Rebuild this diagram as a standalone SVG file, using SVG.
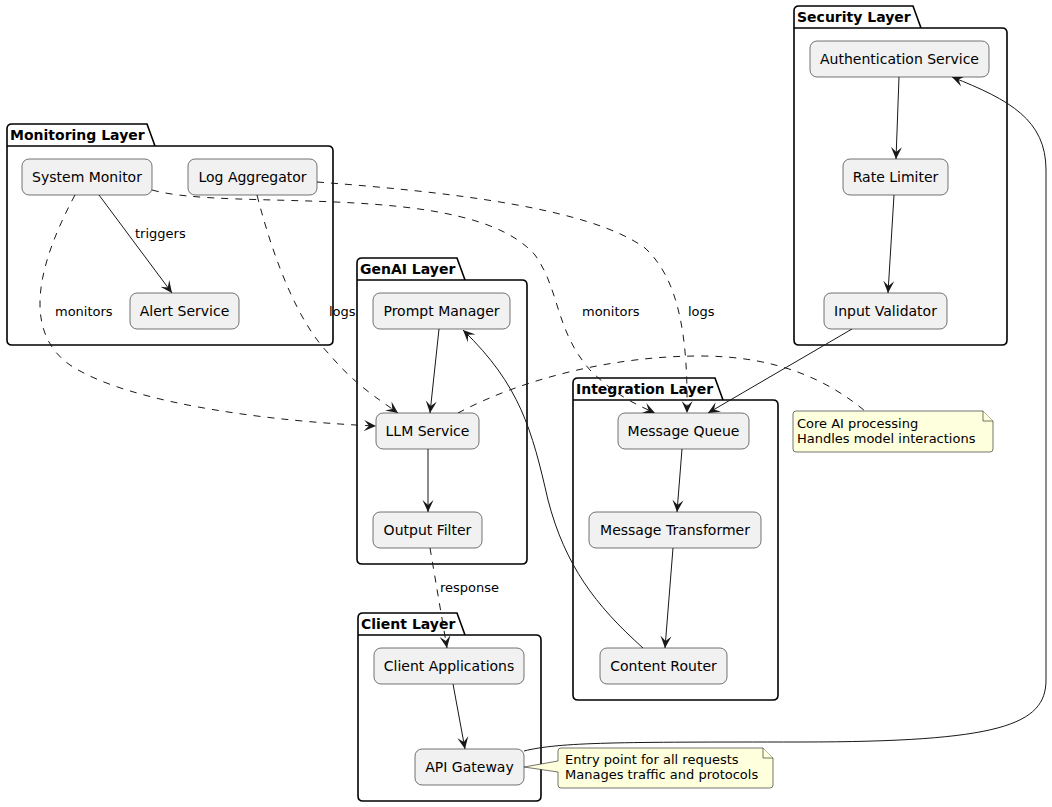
<svg xmlns="http://www.w3.org/2000/svg" width="1052" height="807" viewBox="0 0 1052 807">
<defs>
<marker id="ah" viewBox="0 0 12 12" refX="12" refY="6" markerWidth="12" markerHeight="12" markerUnits="userSpaceOnUse" orient="auto">
<path d="M12,6 L0,0.5 L5,6 L0,11.5 Z" fill="#181818"/>
</marker>
<style>
.pkg{fill:none;stroke:#000;stroke-width:1.6}
.pt{font-family:"DejaVu Sans",sans-serif;font-size:14px;font-weight:bold;fill:#000}
.nd{fill:#F1F1F1;stroke:#181818;stroke-width:0.6}
.nt{font-family:"DejaVu Sans",sans-serif;font-size:14px;fill:#000;text-anchor:middle}
.lb{font-family:"DejaVu Sans",sans-serif;font-size:13px;fill:#000}
.c{fill:none;stroke:#181818;stroke-width:1}
.d{stroke-dasharray:7,7}
.note{fill:#FEFFDD;stroke:#181818;stroke-width:0.6}
</style>
</defs>
<rect width="1052" height="807" fill="#fff"/>

<g id="pkg-monitoring">
<path class="pkg" d="M7,340 L7,129 Q7,124 12,124 L147,124 L155,146 L328,146 Q333,146 333,151 L333,340 Q333,345 328,345 L12,345 Q7,345 7,340 Z M7,146 L155,146"/>
<text class="pt" x="10" y="140">Monitoring Layer</text>
</g>
<g id="pkg-security">
<path class="pkg" d="M794,340 L794,11 Q794,6 799,6 L913,6 L921,28 L1002,28 Q1007,28 1007,33 L1007,340 Q1007,345 1002,345 L799,345 Q794,345 794,340 Z M794,28 L921,28"/>
<text class="pt" x="797" y="22">Security Layer</text>
</g>
<g id="pkg-genai">
<path class="pkg" d="M357,559 L357,263 Q357,258 362,258 L457,258 L465,280 L522,280 Q527,280 527,285 L527,559 Q527,564 522,564 L362,564 Q357,564 357,559 Z M357,280 L465,280"/>
<text class="pt" x="360" y="274">GenAI Layer</text>
</g>
<g id="pkg-integration">
<path class="pkg" d="M573,695 L573,383 Q573,378 578,378 L715,378 L723,400 L773,400 Q778,400 778,405 L778,695 Q778,700 773,700 L578,700 Q573,700 573,695 Z M573,400 L723,400"/>
<text class="pt" x="576" y="394">Integration Layer</text>
</g>
<g id="pkg-client">
<path class="pkg" d="M358,796 L358,618 Q358,613 363,613 L457,613 L465,635 L536,635 Q541,635 541,640 L541,796 Q541,801 536,801 L363,801 Q358,801 358,796 Z M358,635 L465,635"/>
<text class="pt" x="361" y="629">Client Layer</text>
</g>

<g id="connectors">
<path class="c" d="M99,195 L172,293" marker-end="url(#ah)"/>
<text class="lb" x="135" y="238">triggers</text>
<path class="c d" d="M75,195 C40,260 20,330 70,365 C130,405 280,422 376,426" marker-end="url(#ah)"/>
<text class="lb" x="55" y="316">monitors</text>
<path class="c d" d="M257,195 C275,265 300,325 330,355 C355,385 380,400 398,413" marker-end="url(#ah)"/>
<text class="lb" x="329" y="316">logs</text>
<path class="c d" d="M152,190 C230,212 470,180 535,255 C560,290 555,330 590,370 C615,395 635,404 655,413" marker-end="url(#ah)"/>
<text class="lb" x="582" y="316">monitors</text>
<path class="c d" d="M317,182 C450,192 590,208 645,248 C680,280 688,340 687,413" marker-end="url(#ah)"/>
<text class="lb" x="688" y="316">logs</text>
<path class="c" d="M439,329 L430,413" marker-end="url(#ah)"/>
<path class="c" d="M428,449 L428,512" marker-end="url(#ah)"/>
<path class="c d" d="M430,548 L447,648" marker-end="url(#ah)"/>
<text class="lb" x="440" y="592">response</text>
<path class="c" d="M453,684 L465,749" marker-end="url(#ah)"/>
<path class="c" d="M524,751 C560,742 620,742 800,742 C1000,742 1046,725 1046,680 L1046,170 C1046,120 1010,100 952,77" marker-end="url(#ah)"/>
<path class="c" d="M643,648 C595,605 565,565 548,500 C532,430 520,385 463,330" marker-end="url(#ah)"/>
<path class="c" d="M899,77 L896,159" marker-end="url(#ah)"/>
<path class="c" d="M894,195 L888,293" marker-end="url(#ah)"/>
<path class="c" d="M852,329 L708,413" marker-end="url(#ah)"/>
<path class="c" d="M682,449 L677,512" marker-end="url(#ah)"/>
<path class="c" d="M673,548 L665,648" marker-end="url(#ah)"/>
<path class="c d" d="M458,413 C520,380 610,356 700,356 C780,356 830,382 865,411"/>
</g>

<g id="n-system-monitor"><rect class="nd" x="22" y="159" width="130" height="36" rx="7"/><text class="nt" x="87" y="182">System Monitor</text></g>
<g id="n-log-aggregator"><rect class="nd" x="188" y="159" width="129" height="36" rx="7"/><text class="nt" x="252.5" y="182">Log Aggregator</text></g>
<g id="n-alert-service"><rect class="nd" x="130" y="293" width="109" height="36" rx="7"/><text class="nt" x="184.5" y="316">Alert Service</text></g>

<g id="n-auth"><rect class="nd" x="810" y="41" width="179" height="36" rx="7"/><text class="nt" x="899.5" y="64">Authentication Service</text></g>
<g id="n-rate"><rect class="nd" x="843" y="159" width="105" height="36" rx="7"/><text class="nt" x="895.5" y="182">Rate Limiter</text></g>
<g id="n-input"><rect class="nd" x="824" y="293" width="123" height="36" rx="7"/><text class="nt" x="885.5" y="316">Input Validator</text></g>

<g id="n-prompt"><rect class="nd" x="373" y="293" width="137" height="36" rx="7"/><text class="nt" x="441.5" y="316">Prompt Manager</text></g>
<g id="n-llm"><rect class="nd" x="376" y="413" width="103" height="36" rx="7"/><text class="nt" x="427.5" y="436">LLM Service</text></g>
<g id="n-output"><rect class="nd" x="373" y="512" width="109" height="36" rx="7"/><text class="nt" x="427.5" y="535">Output Filter</text></g>

<g id="n-mq"><rect class="nd" x="618" y="413" width="131" height="36" rx="7"/><text class="nt" x="683.5" y="436">Message Queue</text></g>
<g id="n-mt"><rect class="nd" x="589" y="512" width="172" height="36" rx="7"/><text class="nt" x="675" y="535">Message Transformer</text></g>
<g id="n-cr"><rect class="nd" x="600" y="648" width="127" height="36" rx="7"/><text class="nt" x="663.5" y="671">Content Router</text></g>

<g id="n-client-apps"><rect class="nd" x="374" y="648" width="150" height="36" rx="7"/><text class="nt" x="449" y="671">Client Applications</text></g>
<g id="n-gateway"><rect class="nd" x="415" y="749" width="109" height="36" rx="7"/><text class="nt" x="469.5" y="772">API Gateway</text></g>

<g id="note-core">
<path class="note" d="M796,411 L983,411 L993,421 L993,449 Q993,452 990,452 L796,452 Q793,452 793,449 L793,414 Q793,411 796,411 Z"/>
<path class="note" d="M983,411 L983,421 L993,421" fill="none"/>
<text class="lb" x="797" y="428">Core AI processing</text>
<text class="lb" x="797" y="443">Handles model interactions</text>
</g>
<g id="note-entry">
<path class="note" d="M561,748 L763,748 L773,758 L773,785 Q773,788 770,788 L561,788 Q558,788 558,785 L558,772 L524,767 L558,761 L558,751 Q558,748 561,748 Z"/>
<path class="note" d="M763,748 L763,758 L773,758" fill="none"/>
<text class="lb" x="565" y="764">Entry point for all requests</text>
<text class="lb" x="565" y="779">Manages traffic and protocols</text>
</g>
</svg>
